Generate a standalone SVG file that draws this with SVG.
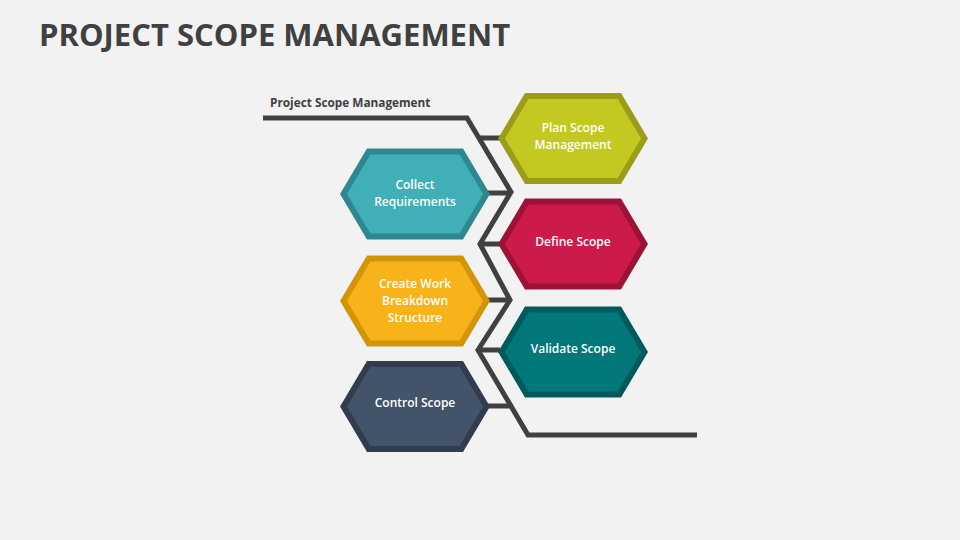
<svg xmlns="http://www.w3.org/2000/svg" width="960" height="540" viewBox="0 0 960 540">
<defs>
<style>
.title{font-family:"Open Sans","Liberation Sans",sans-serif;font-weight:700;font-size:31px;fill:#404040}
.sub{font-family:"Open Sans","Liberation Sans",sans-serif;font-weight:700;font-size:11.8px;fill:#404040}
.lbl{font-family:"Open Sans","Liberation Sans",sans-serif;font-weight:600;font-size:12px;fill:#ffffff;text-anchor:middle}
.hex{stroke-width:6;stroke-linejoin:miter}
.conn{fill:none;stroke:#404040;stroke-width:5;stroke-linejoin:miter}
</style>
<polygon id="hx" points="-71.5,0 -46.3,-42.5 46.3,-42.5 71.5,0 46.3,42.5 -46.3,42.5"/>
</defs>
<rect width="960" height="540" fill="#f2f2f2"/>
<text class="title" x="39" y="46">PROJECT SCOPE MANAGEMENT</text>
<text class="sub" x="270" y="107">Project Scope Management</text>
<g id="connectors">
<polyline class="conn" points="263,118 467,118 511,192 480,244 510,300 478,350 528,435 697,435"/>
<line class="conn" x1="478" y1="138" x2="500" y2="138"/>
<line class="conn" x1="487" y1="193" x2="511" y2="193"/>
<line class="conn" x1="480" y1="244" x2="500" y2="244"/>
<line class="conn" x1="487" y1="300" x2="510" y2="300"/>
<line class="conn" x1="478" y1="350" x2="500" y2="350"/>
<line class="conn" x1="487" y1="406" x2="512" y2="406"/>
</g>
<g id="plan-scope">
<use href="#hx" class="hex" transform="translate(573,138.5)" fill="#c4c922" stroke="#9a9d19"/>
<text class="lbl" x="573" y="132">Plan Scope</text>
<text class="lbl" x="573" y="149">Management</text>
</g>
<g id="collect-requirements">
<use href="#hx" class="hex" transform="translate(415,194)" fill="#40afb8" stroke="#2f8890"/>
<text class="lbl" x="415" y="189">Collect</text>
<text class="lbl" x="415" y="206">Requirements</text>
</g>
<g id="define-scope">
<use href="#hx" class="hex" transform="translate(573,244)" fill="#cc1a4a" stroke="#9e1238"/>
<text class="lbl" x="573" y="246">Define Scope</text>
</g>
<g id="create-wbs">
<use href="#hx" class="hex" transform="translate(415,301)" fill="#f9b31a" stroke="#d39506"/>
<text class="lbl" x="415" y="288">Create Work</text>
<text class="lbl" x="415" y="305">Breakdown</text>
<text class="lbl" x="415" y="322">Structure</text>
</g>
<g id="validate-scope">
<use href="#hx" class="hex" transform="translate(573,352)" fill="#00787a" stroke="#005a5c"/>
<text class="lbl" x="573" y="353">Validate Scope</text>
</g>
<g id="control-scope">
<use href="#hx" class="hex" transform="translate(415,406.5)" fill="#435369" stroke="#313d4f"/>
<text class="lbl" x="415" y="407">Control Scope</text>
</g>
</svg>
